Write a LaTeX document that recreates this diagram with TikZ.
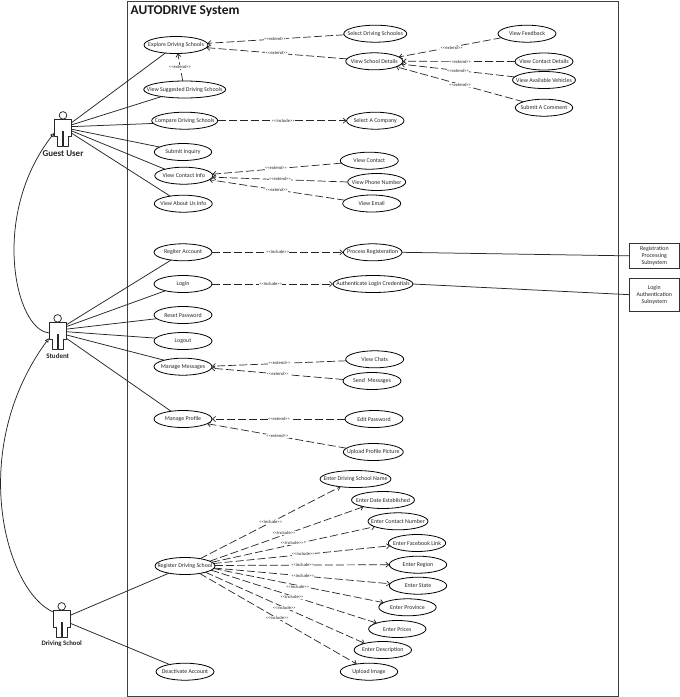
\documentclass[tikz,border=0pt]{standalone}
\usepackage{fontspec}
\setmainfont{Carlito}
\usetikzlibrary{shapes.geometric,arrows.meta}
\tikzset{
  uc/.style={ellipse,draw=black,line width=0.8pt,inner sep=0pt,outer sep=0pt,minimum height=17,font=\fontsize{5.9}{7}\selectfont,text=black!85},
  actorbox/.style={rectangle,inner sep=0pt,outer sep=0pt,minimum width=17.6,minimum height=27},
  actorname/.style={font=\bfseries,text=black!85,inner sep=0pt},
  assoc/.style={draw=black!85,line width=0.75pt},
  dep/.style={draw=black!85,line width=0.7pt,dash pattern=on 8pt off 3pt,-{Straight Barb[length=3pt,width=5pt]}},
  gen/.style={draw=black!85,line width=0.75pt,-{Triangle[open,length=4pt,width=4pt,fill=white]}},
  lbl/.style={fill=white,inner sep=0.4pt,font=\fontsize{4.6}{5}\selectfont,text=black!85},
  subsys/.style={rectangle,draw=black!80,line width=0.8pt,inner sep=0pt,outer sep=0pt,minimum width=50.7,align=center,font=\fontsize{5.9}{7.2}\selectfont,text=black!85}
}
\newcommand\uc[5]{\node[uc,minimum width=#4*2] (#1) at (#2,#3) {\makebox[0pt]{#5}};}
\newcommand\actorfig[3]{%
  \begin{scope}[shift={(#2,#3)}]
    \node[actorbox] (#1) at (0,0) {};
    \draw[draw=black!85,line width=0.75pt,line join=round]
      (-8.7,-13.5) -- (8.7,-13.5) -- (8.7,3.2) -- (5.4,3.2) -- (5.4,13.5) -- (0.5,13.5) -- (0.5,-1.5) -- (-0.5,-1.5) -- (-0.5,13.5) -- (-5.4,13.5) -- (-5.4,3.2) -- (-8.7,3.2) -- cycle;
    \draw[draw=black!85,line width=0.75pt] (0,-17.6) circle[radius=3.8pt];
  \end{scope}}
\newcommand\dlabel[4]{\node[lbl] (#1) at (#2,#3) {<\kern0pt<#4>\kern0pt>};}
\begin{document}
\begin{tikzpicture}[x=1pt,y=-1pt]
\useasboundingbox (0,0) rectangle (680,697);
\fill[white] (0,0) rectangle (680,697);
\draw[draw=black!75,line width=0.9pt] (127.3,1.5) rectangle (618.3,696);
\node[anchor=west,inner sep=0pt,font=\fontsize{13.4}{15}\bfseries\selectfont,text=black!90] (title) at (130.5,11) {AUTODRIVE System};

% actors
\actorfig{guest}{63}{133}
\actorfig{student}{57.65}{336}
\actorfig{school}{61.7}{624}
\node[actorname,font=\fontsize{9}{10}\bfseries\selectfont] (guestname) at (63,153.5) {Guest User};
\node[actorname,font=\fontsize{7}{8}\bfseries\selectfont] (studentname) at (57.7,355.7) {Student};
\node[actorname,font=\fontsize{6.8}{8}\bfseries\selectfont] (schoolname) at (61.7,643.3) {Driving School};

% use cases
\uc{explore}{176}{45}{32}{Explore Driving Schools}
\uc{suggested}{184.7}{89.5}{41}{View Suggested Driving Schools}
\uc{compare}{184.7}{120.7}{33}{Compare Driving Schools}
\uc{inquiry}{183}{152}{28.7}{Submit Inquiry}
\uc{contactinfo}{183.8}{175.7}{29}{View Contact Info}
\uc{about}{183.3}{203.7}{29}{View About Us Info}
\uc{selectschool}{375.3}{33.7}{31.5}{Select Driving Schooles}
\uc{details}{374.3}{61.3}{28.5}{View School Details}
\uc{feedback}{527}{33.7}{29}{View Feedback}
\uc{contactdetails}{544}{61.5}{29}{View Contact Details}
\uc{vehicles}{544}{80}{31.5}{View Available Vehicles}
\uc{comment}{544}{107.7}{28.7}{Submit A Comment}
\uc{company}{375.3}{120.7}{28.7}{Select A Company}
\uc{viewcontact}{369.3}{160.7}{29}{View Contact}
\uc{phone}{376.7}{182}{29}{View Phone Number}
\uc{email}{371.7}{203.5}{29}{View Email}
\uc{register}{183}{252.3}{29}{Regiter Account}
\uc{login}{183}{284}{29}{Login}
\uc{reset}{183}{315}{29}{Reset Password}
\uc{logout}{183}{341}{29}{Logout}
\uc{messages}{183}{366.7}{29}{Manage Messages}
\uc{profile}{183}{419}{29}{Manage Profile}
\uc{process}{372.7}{252.3}{29.3}{Process Registeration}
\uc{auth}{373}{284}{40}{Authenticate Login Credentials}
\uc{chats}{374.7}{359.3}{29}{View Chats}
\uc{send}{372}{381}{29}{Send\ \ Messages}
\uc{editpw}{374}{419}{29}{Edit Password}
\uc{upload}{373.3}{452}{30}{Upload Profile Picture}
\uc{regschool}{185}{566}{30}{Register Driving School}
\uc{deactivate}{185}{671.7}{29}{Deactivate Account}
\uc{ename}{355.5}{479}{35.5}{Enter Driving School Name}
\uc{edate}{383}{500}{31.5}{Enter Date Established}
\uc{enumber}{398}{521.3}{30}{Enter Contact Number}
\uc{efacebook}{417}{543}{28.7}{Enter Facebook Link}
\uc{eregion}{418}{564.7}{28.7}{Enter Region}
\uc{estate}{418}{585.7}{28.7}{Enter State}
\uc{eprovince}{407.5}{607.3}{28.7}{Enter Province}
\uc{eprices}{397.3}{629}{28.7}{Enter Prices}
\uc{edescription}{382.8}{650}{28.7}{Enter Description}
\uc{eimage}{369}{671.7}{28.7}{Upload Image}

% external subsystems
\node[subsys,minimum height=24.3] (regsub) at (654.3,255.85) {Registration\\Processing\\Subsystem};
\node[subsys,minimum height=32.7] (loginsub) at (654.3,294.65) {Login\\Authentication\\Subsystem};

% actor associations
\draw[assoc] (guest.50) -- (explore.217);
\draw[assoc] (guest.43) -- (suggested.197);
\draw[assoc] (guest.36) -- (compare.185);
\draw[assoc] (guest.23) -- (inquiry.168);
\draw[assoc] (guest.13) -- (contactinfo.161);
\draw[assoc] (guest.-2) -- (about.150);
\draw[assoc] (student.52) -- (register.213);
\draw[assoc] (student.47) -- (login.201);
\draw[assoc] (student.38) -- (reset.188);
\draw[assoc] (student.26) -- (logout.174.5);
\draw[assoc] (student.7) -- (messages.161);
\draw[assoc] (student.-15) -- (profile.147);
\draw[assoc] (school.45) -- (regschool.204);
\draw[assoc] (school.4) -- (deactivate.155);
\draw[assoc] (process.east) -- (regsub.west);
\draw[assoc] (auth.east) -- (loginsub.west);

% generalisation
\draw[gen] (student.160) .. controls (15,330) and (-10,215) .. (guest.west);
\draw[gen] (school.126) .. controls (5,590) and (-33,450) .. (student.195);

% extend / include
\draw[dep] (selectschool.182) -- (explore.3);
\draw[dep] (details.175) -- (explore.-5);
\draw[dep] (suggested.103) -- (explore.-78);
\draw[dep] (compare.east) -- (company.west);
\draw[dep] (feedback.189) -- (details.10);
\draw[dep] (contactdetails.west) -- (details.east);
\draw[dep] (vehicles.174) -- (details.-6);
\draw[dep] (comment.164) -- (details.-14);
\draw[dep] (viewcontact.185) -- (contactinfo.3);
\draw[dep] (phone.west) -- (contactinfo.-3);
\draw[dep] (email.173) -- (contactinfo.-9);
\draw[dep] (register.east) -- (process.west);
\draw[dep] (login.east) -- (auth.west);
\draw[dep] (chats.183) -- (messages.1);
\draw[dep] (send.177) -- (messages.-3);
\draw[dep] (editpw.west) -- (profile.east);
\draw[dep] (upload.172) -- (profile.-11);
\draw[dep] (regschool.26) -- (ename.207);
\draw[dep] (regschool.11.5) -- (edate.199);
\draw[dep] (regschool.8.6) -- (enumber.193);
\draw[dep] (regschool.5) -- (efacebook.186);
\draw[dep] (regschool.1) -- (eregion.west);
\draw[dep] (regschool.-4) -- (estate.176);
\draw[dep] (regschool.-5) -- (eprovince.169);
\draw[dep] (regschool.-9) -- (eprices.164);
\draw[dep] (regschool.-17.5) -- (edescription.160);
\draw[dep] (regschool.-27.5) -- (eimage.148);

% stereotype labels
\dlabel{la}{275}{39.3}{extend}
\dlabel{lb}{276.7}{53.3}{extend}
\dlabel{lc}{180}{67.3}{extend}
\dlabel{ld}{283.3}{120.7}{include}
\dlabel{le}{451.7}{47.7}{extend}
\dlabel{lf}{460}{61.5}{extend}
\dlabel{lg}{458}{70.7}{extend}
\dlabel{lh}{460}{85}{extend}
\dlabel{li}{276}{168.3}{extend}
\dlabel{lj}{280}{179}{extend}
\dlabel{lk}{276.7}{190}{extend}
\dlabel{ll}{277.7}{252.3}{include}
\dlabel{lm}{270.7}{284}{include}
\dlabel{ln}{279.3}{363.3}{extend}
\dlabel{lo}{277.7}{374}{extend}
\dlabel{lp}{279}{419}{extend}
\dlabel{lq}{277.3}{436}{extend}
\dlabel{lr}{270.7}{522.3}{include}
\dlabel{ls}{284}{532.7}{include}
\dlabel{lt}{292}{543.3}{include}
\dlabel{lu}{303.3}{554.3}{include}
\dlabel{lv}{302.7}{565.3}{include}
\dlabel{lw}{302.7}{576}{include}
\dlabel{lx}{297.7}{586.7}{include}
\dlabel{ly}{292}{597.3}{include}
\dlabel{lz}{284.3}{607.7}{include}
\dlabel{lzz}{277.3}{618.3}{include}
\end{tikzpicture}
\end{document}
